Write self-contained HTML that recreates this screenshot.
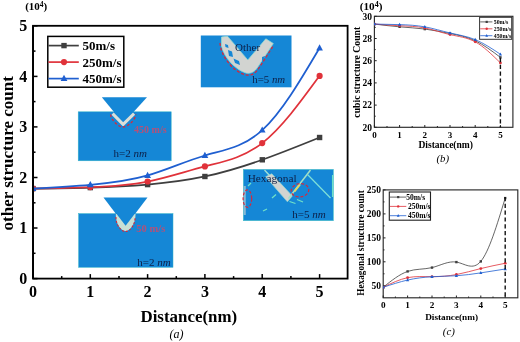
<!DOCTYPE html>
<html lang="en">
<head>
<meta charset="utf-8">
<title>Structure count vs distance</title>
<style>
html,body{margin:0;padding:0;background:#fff;}
body{width:520px;height:342px;overflow:hidden;}
svg{display:block;font-family:"Liberation Serif","DejaVu Serif",serif;}

</style>
</head>
<body>
<svg width="520" height="342" viewBox="0 0 520 342">
<rect x="0" y="0" width="520" height="342" fill="#fff"/>
<g id="plot-a">
<g id="inset-450">
<rect x="78.2" y="111.8" width="93" height="49" fill="#1587d6" stroke="#35b5c5" stroke-width="0.5"/>
<polygon points="101.8,97.3 147,97.3 123.3,123.3" fill="#1587d6"/>
<path d="M112.6,113.6 L123.1,124.4 L134.1,113.6" fill="none" stroke="#dcdfd8" stroke-width="3" stroke-linejoin="round"/>
<path d="M110.6,114.5 C111,119.5 118,127.2 123,127 C128,127.2 135.5,119.5 135.8,114.5" fill="none" stroke="#d8283a" stroke-width="1.3" stroke-dasharray="2.6 2"/>
<text x="150.3" y="133" font-size="10" font-weight="bold" fill="#e8405a" text-anchor="middle" opacity="0.75">450 m/s</text>
<text x="130.3" y="156.8" font-size="11" fill="#0c1f48" text-anchor="middle">h=2 <tspan font-style="italic">nm</tspan></text>
</g>
<g id="inset-50">
<rect x="78.6" y="213.6" width="94.4" height="53.7" fill="#1587d6" stroke="#35b5c5" stroke-width="0.5"/>
<polygon points="103.5,197.5 147.5,197.5 125.5,226.5" fill="#1587d6"/>
<path d="M115.8,214 C115.5,224 121,231 125.5,231 C130,231 135.5,224 135.6,214 Z" fill="#c9e0d5"/>
<polygon points="116.6,214 134.6,214 125.6,225.8" fill="#1587d6"/>
<path d="M116,217 C115.5,225 121.5,231.8 125.5,231.5 C129.5,231.8 135.5,225 135,217" fill="none" stroke="#d8283a" stroke-width="1.1" stroke-dasharray="2.2 1.6"/>
<text x="150.8" y="231.8" font-size="10.5" font-weight="bold" fill="#e8405a" text-anchor="middle" opacity="0.75">50 m/s</text>
<text x="154" y="265.5" font-size="11" fill="#0c1f48" text-anchor="middle">h=2 <tspan font-style="italic">nm</tspan></text>
</g>
<g id="inset-other">
<rect x="200.8" y="35.5" width="90.7" height="51.8" fill="#1587d6"/>
<path d="M221.5,37 L227.5,36.2 L247.8,60 L265.8,38.8 L273.3,43.5 L257.5,67.5 C254.5,72 250.5,74 246,73 C236,70 224,58 221.5,46 Z" fill="#d2d4d1" stroke="#8fd9d2" stroke-width="0.8" stroke-linejoin="round"/>
<path d="M228,50 L232,51.5 L233,57 L229,56 Z M233.5,58.5 L239,61 L240,65 L235,63 Z M225,44 l3,1 l0.5,3 l-3,-1 Z M262,57 l3,-1 l-1,4 l-2,1 Z" fill="#1587d6"/>
<path d="M220,43 C221,58 236,74.8 248.5,75.2 C253.5,75.2 257,71 259,68 L273.5,45.5" fill="none" stroke="#d8283a" stroke-width="1.3" stroke-dasharray="3 1.8"/>
<text x="247.6" y="50.8" font-size="11" fill="#0c1f48" text-anchor="middle">Other</text>
<text x="268.7" y="83.4" font-size="10.8" fill="#0c1f48" text-anchor="middle">h=5 <tspan font-style="italic">nm</tspan></text>
</g>
<g id="inset-hex">
<rect x="243.3" y="169.4" width="90" height="51.3" fill="#1587d6" stroke="#45c0c8" stroke-width="0.6"/>
<path d="M243.6,186 L245.8,186 L245.8,215 L243.6,215 Z" fill="#a9c9d6" opacity="0.75"/>
<path d="M264.5,170 L270,176" fill="none" stroke="#9fe0d6" stroke-width="1.4"/>
<path d="M265.6,176.8 L271.8,173.8 L292.3,196 L287.4,201.8 Z" fill="#d2d4d1" stroke="#8fd9d2" stroke-width="0.7" stroke-linejoin="round"/>
<path d="M288.5,198.5 L310.5,170" fill="none" stroke="#a6dfc4" stroke-width="1.5"/>
<path d="M294.5,191.5 L300,184.5" fill="none" stroke="#e6d860" stroke-width="2"/>
<path d="M307.5,174.5 L330.5,198" fill="none" stroke="#7fe0d8" stroke-width="1.2"/>
<path d="M272,198 l4,-3.5 M263,211 l4,-2 M289.5,201.5 l6,2 M297,199.5 l6,2.5 M248,186 l3,-3 M332.6,175 l0,22" fill="none" stroke="#6fe0c8" stroke-width="1.3"/>
<ellipse cx="300" cy="190.3" rx="8.8" ry="6.6" fill="none" stroke="#d8283a" stroke-width="1.2" stroke-dasharray="3 1.8" transform="rotate(-8 300 190.3)"/>
<ellipse cx="247.4" cy="198.6" rx="4.3" ry="8.7" fill="none" stroke="#d8283a" stroke-width="1.2" stroke-dasharray="3 1.8"/>
<text x="272.1" y="181.6" font-size="11.3" fill="#0c1f48" text-anchor="middle">Hexagonal</text>
<text x="309" y="217.5" font-size="11" fill="#0c1f48" text-anchor="middle">h=5 <tspan font-style="italic">nm</tspan></text>
</g>
<rect x="33.0" y="25.8" width="314.6" height="252.8" fill="none" stroke="#000" stroke-width="1.8"/>
<line x1="33.0" y1="278.6" x2="33.0" y2="274.1" stroke="#000" stroke-width="1.5"/>
<line x1="61.7" y1="278.6" x2="61.7" y2="276.1" stroke="#000" stroke-width="1.5"/>
<line x1="90.3" y1="278.6" x2="90.3" y2="274.1" stroke="#000" stroke-width="1.5"/>
<line x1="119.0" y1="278.6" x2="119.0" y2="276.1" stroke="#000" stroke-width="1.5"/>
<line x1="147.6" y1="278.6" x2="147.6" y2="274.1" stroke="#000" stroke-width="1.5"/>
<line x1="176.3" y1="278.6" x2="176.3" y2="276.1" stroke="#000" stroke-width="1.5"/>
<line x1="204.9" y1="278.6" x2="204.9" y2="274.1" stroke="#000" stroke-width="1.5"/>
<line x1="233.6" y1="278.6" x2="233.6" y2="276.1" stroke="#000" stroke-width="1.5"/>
<line x1="262.2" y1="278.6" x2="262.2" y2="274.1" stroke="#000" stroke-width="1.5"/>
<line x1="290.9" y1="278.6" x2="290.9" y2="276.1" stroke="#000" stroke-width="1.5"/>
<line x1="319.6" y1="278.6" x2="319.6" y2="274.1" stroke="#000" stroke-width="1.5"/>
<line x1="33.0" y1="278.6" x2="37.5" y2="278.6" stroke="#000" stroke-width="1.5"/>
<line x1="33.0" y1="253.3" x2="35.5" y2="253.3" stroke="#000" stroke-width="1.5"/>
<line x1="33.0" y1="228.0" x2="37.5" y2="228.0" stroke="#000" stroke-width="1.5"/>
<line x1="33.0" y1="202.8" x2="35.5" y2="202.8" stroke="#000" stroke-width="1.5"/>
<line x1="33.0" y1="177.5" x2="37.5" y2="177.5" stroke="#000" stroke-width="1.5"/>
<line x1="33.0" y1="152.2" x2="35.5" y2="152.2" stroke="#000" stroke-width="1.5"/>
<line x1="33.0" y1="126.9" x2="37.5" y2="126.9" stroke="#000" stroke-width="1.5"/>
<line x1="33.0" y1="101.6" x2="35.5" y2="101.6" stroke="#000" stroke-width="1.5"/>
<line x1="33.0" y1="76.4" x2="37.5" y2="76.4" stroke="#000" stroke-width="1.5"/>
<line x1="33.0" y1="51.1" x2="35.5" y2="51.1" stroke="#000" stroke-width="1.5"/>
<line x1="33.0" y1="25.8" x2="37.5" y2="25.8" stroke="#000" stroke-width="1.5"/>
<text x="33.0" y="297.4" font-size="16" font-weight="bold" text-anchor="middle">0</text>
<text x="90.3" y="297.4" font-size="16" font-weight="bold" text-anchor="middle">1</text>
<text x="147.6" y="297.4" font-size="16" font-weight="bold" text-anchor="middle">2</text>
<text x="204.9" y="297.4" font-size="16" font-weight="bold" text-anchor="middle">3</text>
<text x="262.2" y="297.4" font-size="16" font-weight="bold" text-anchor="middle">4</text>
<text x="319.6" y="297.4" font-size="16" font-weight="bold" text-anchor="middle">5</text>
<text x="27.2" y="284.0" font-size="16" font-weight="bold" text-anchor="end">0</text>
<text x="27.2" y="233.4" font-size="16" font-weight="bold" text-anchor="end">1</text>
<text x="27.2" y="182.9" font-size="16" font-weight="bold" text-anchor="end">2</text>
<text x="27.2" y="132.3" font-size="16" font-weight="bold" text-anchor="end">3</text>
<text x="27.2" y="81.8" font-size="16" font-weight="bold" text-anchor="end">4</text>
<text x="27.2" y="31.2" font-size="16" font-weight="bold" text-anchor="end">5</text>
<text x="25.2" y="10.2" font-size="11" font-weight="bold">(10<tspan dy="-3.5" font-size="7.5">4</tspan><tspan dy="3.5">)</tspan></text>
<text transform="translate(12.6,153.3) rotate(-90)" font-size="17" font-weight="bold" text-anchor="middle">other structure count</text>
<text x="188.8" y="321.6" font-size="16.9" font-weight="bold" text-anchor="middle">Distance(nm)</text>
<text x="176.5" y="338" font-size="12" font-style="italic" text-anchor="middle">(a)</text>
<clipPath id="clipA"><rect x="33.05" y="0" width="400" height="342"/></clipPath>
<g clip-path="url(#clipA)">
<path d="M33.05,188.60 C52.15,188.37 71.25,188.14 90.35,187.59 C109.45,187.04 128.55,186.18 147.65,184.56 C166.75,182.94 185.85,180.56 204.95,176.47 C224.05,172.37 243.15,166.56 262.25,159.78 C281.35,153.01 300.45,145.27 319.55,137.54" fill="none" stroke="#3f3f3f" stroke-width="1.75"/>
<rect x="30.3" y="185.9" width="5.4" height="5.4" fill="#3f3f3f"/>
<rect x="87.6" y="184.9" width="5.4" height="5.4" fill="#3f3f3f"/>
<rect x="144.9" y="181.9" width="5.4" height="5.4" fill="#3f3f3f"/>
<rect x="202.2" y="173.8" width="5.4" height="5.4" fill="#3f3f3f"/>
<rect x="259.6" y="157.1" width="5.4" height="5.4" fill="#3f3f3f"/>
<rect x="316.9" y="134.8" width="5.4" height="5.4" fill="#3f3f3f"/>
<path d="M33.05,188.60 C52.15,188.21 71.25,187.82 90.35,187.09 C109.45,186.36 128.55,185.28 147.65,181.52 C166.75,177.76 185.85,171.31 204.95,166.36 C224.05,161.40 243.15,157.93 262.25,143.10 C281.35,128.26 300.45,102.06 319.55,75.85" fill="none" stroke="#e0323a" stroke-width="1.75"/>
<circle cx="33.0" cy="188.6" r="3.1" fill="#e0323a"/>
<circle cx="90.3" cy="187.1" r="3.1" fill="#e0323a"/>
<circle cx="147.6" cy="181.5" r="3.1" fill="#e0323a"/>
<circle cx="204.9" cy="166.4" r="3.1" fill="#e0323a"/>
<circle cx="262.2" cy="143.1" r="3.1" fill="#e0323a"/>
<circle cx="319.6" cy="75.9" r="3.1" fill="#e0323a"/>
<path d="M33.05,188.60 C52.15,187.53 71.25,186.45 90.35,184.81 C109.45,183.18 128.55,180.98 147.65,175.46 C166.75,169.93 185.85,161.08 204.95,155.49 C224.05,149.90 243.15,147.57 262.25,130.21 C281.35,112.84 300.45,80.45 319.55,48.05" fill="none" stroke="#1f5fd0" stroke-width="1.75"/>
<polygon points="33.0,184.8 29.6,191.0 36.4,191.0" fill="#1f5fd0"/>
<polygon points="90.3,181.0 86.9,187.2 93.8,187.2" fill="#1f5fd0"/>
<polygon points="147.6,171.7 144.2,177.9 151.0,177.9" fill="#1f5fd0"/>
<polygon points="204.9,151.7 201.5,157.9 208.3,157.9" fill="#1f5fd0"/>
<polygon points="262.2,126.4 258.9,132.6 265.6,132.6" fill="#1f5fd0"/>
<polygon points="319.6,44.2 316.2,50.4 322.9,50.4" fill="#1f5fd0"/>
</g>
<line x1="33.05" y1="25.8" x2="33.05" y2="278.6" stroke="#000" stroke-width="1.8"/>
<rect x="47.8" y="36.4" width="76" height="50.8" fill="#fff" stroke="#000" stroke-width="1.5"/>
<line x1="48.4" y1="45.6" x2="78.8" y2="45.6" stroke="#3f3f3f" stroke-width="1.7"/>
<rect x="61.3" y="42.9" width="5.4" height="5.4" fill="#3f3f3f"/>
<text x="82.5" y="50.0" font-size="13" font-weight="bold">50m/s</text>
<line x1="48.4" y1="62.1" x2="78.8" y2="62.1" stroke="#e0323a" stroke-width="1.7"/>
<circle cx="64.0" cy="62.1" r="3.1" fill="#e0323a"/>
<text x="82.5" y="66.5" font-size="13" font-weight="bold">250m/s</text>
<line x1="48.4" y1="78.6" x2="78.8" y2="78.6" stroke="#1f5fd0" stroke-width="1.7"/>
<polygon points="64.0,74.8 60.6,81.0 67.4,81.0" fill="#1f5fd0"/>
<text x="82.5" y="83.0" font-size="13" font-weight="bold">450m/s</text>
</g>
<g id="plot-b">
<rect x="374.4" y="16.3" width="138.5" height="111.0" fill="none" stroke="#2a2a2a" stroke-width="1.15"/>
<line x1="374.4" y1="127.3" x2="374.4" y2="125.0" stroke="#222" stroke-width="1"/>
<line x1="387.0" y1="127.3" x2="387.0" y2="126.0" stroke="#222" stroke-width="1"/>
<line x1="399.6" y1="127.3" x2="399.6" y2="125.0" stroke="#222" stroke-width="1"/>
<line x1="412.2" y1="127.3" x2="412.2" y2="126.0" stroke="#222" stroke-width="1"/>
<line x1="424.8" y1="127.3" x2="424.8" y2="125.0" stroke="#222" stroke-width="1"/>
<line x1="437.4" y1="127.3" x2="437.4" y2="126.0" stroke="#222" stroke-width="1"/>
<line x1="450.0" y1="127.3" x2="450.0" y2="125.0" stroke="#222" stroke-width="1"/>
<line x1="462.6" y1="127.3" x2="462.6" y2="126.0" stroke="#222" stroke-width="1"/>
<line x1="475.2" y1="127.3" x2="475.2" y2="125.0" stroke="#222" stroke-width="1"/>
<line x1="487.8" y1="127.3" x2="487.8" y2="126.0" stroke="#222" stroke-width="1"/>
<line x1="500.4" y1="127.3" x2="500.4" y2="125.0" stroke="#222" stroke-width="1"/>
<line x1="374.4" y1="127.3" x2="376.7" y2="127.3" stroke="#222" stroke-width="1"/>
<line x1="374.4" y1="116.2" x2="375.7" y2="116.2" stroke="#222" stroke-width="1"/>
<line x1="374.4" y1="105.1" x2="376.7" y2="105.1" stroke="#222" stroke-width="1"/>
<line x1="374.4" y1="94.0" x2="375.7" y2="94.0" stroke="#222" stroke-width="1"/>
<line x1="374.4" y1="82.9" x2="376.7" y2="82.9" stroke="#222" stroke-width="1"/>
<line x1="374.4" y1="71.8" x2="375.7" y2="71.8" stroke="#222" stroke-width="1"/>
<line x1="374.4" y1="60.7" x2="376.7" y2="60.7" stroke="#222" stroke-width="1"/>
<line x1="374.4" y1="49.6" x2="375.7" y2="49.6" stroke="#222" stroke-width="1"/>
<line x1="374.4" y1="38.5" x2="376.7" y2="38.5" stroke="#222" stroke-width="1"/>
<line x1="374.4" y1="27.4" x2="375.7" y2="27.4" stroke="#222" stroke-width="1"/>
<line x1="374.4" y1="16.3" x2="376.7" y2="16.3" stroke="#222" stroke-width="1"/>
<text x="374.4" y="137.8" font-size="9" font-weight="bold" text-anchor="middle">0</text>
<text x="399.6" y="137.8" font-size="9" font-weight="bold" text-anchor="middle">1</text>
<text x="424.8" y="137.8" font-size="9" font-weight="bold" text-anchor="middle">2</text>
<text x="450.0" y="137.8" font-size="9" font-weight="bold" text-anchor="middle">3</text>
<text x="475.2" y="137.8" font-size="9" font-weight="bold" text-anchor="middle">4</text>
<text x="500.4" y="137.8" font-size="9" font-weight="bold" text-anchor="middle">5</text>
<text x="372.0" y="130.5" font-size="9.5" font-weight="bold" text-anchor="end">20</text>
<text x="372.0" y="108.3" font-size="9.5" font-weight="bold" text-anchor="end">22</text>
<text x="372.0" y="86.1" font-size="9.5" font-weight="bold" text-anchor="end">24</text>
<text x="372.0" y="63.9" font-size="9.5" font-weight="bold" text-anchor="end">26</text>
<text x="372.0" y="41.7" font-size="9.5" font-weight="bold" text-anchor="end">28</text>
<text x="372.0" y="19.5" font-size="9.5" font-weight="bold" text-anchor="end">30</text>
<text x="359.8" y="10" font-size="11.2" font-weight="bold">(10<tspan dy="-3.5" font-size="8">4</tspan><tspan dy="3.5">)</tspan></text>
<text transform="translate(359.5,72.25) rotate(-90)" font-size="9.7" font-weight="bold" text-anchor="middle">cubic structure Count</text>
<text x="445.7" y="147.7" font-size="9.55" font-weight="bold" text-anchor="middle">Distance(nm)</text>
<text x="442.8" y="162.3" font-size="10.8" font-style="italic" text-anchor="middle">(b)</text>
<clipPath id="clipB"><rect x="374.10" y="0" width="200" height="342"/></clipPath>
<g clip-path="url(#clipB)">
<path d="M374.40,24.07 C382.80,25.10 391.20,26.12 399.60,26.84 C408.00,27.57 416.40,27.99 424.80,29.06 C433.20,30.14 441.60,31.85 450.00,33.51 C458.40,35.16 466.80,36.75 475.20,40.72 C483.60,44.69 492.00,51.03 500.40,57.37" fill="none" stroke="#3f3f3f" stroke-width="0.8"/>
<rect x="373.2" y="22.9" width="2.4" height="2.4" fill="#3f3f3f"/>
<rect x="398.4" y="25.6" width="2.4" height="2.4" fill="#3f3f3f"/>
<rect x="423.6" y="27.9" width="2.4" height="2.4" fill="#3f3f3f"/>
<rect x="448.8" y="32.3" width="2.4" height="2.4" fill="#3f3f3f"/>
<rect x="474.0" y="39.5" width="2.4" height="2.4" fill="#3f3f3f"/>
<rect x="499.2" y="56.2" width="2.4" height="2.4" fill="#3f3f3f"/>
<path d="M374.40,24.07 C382.80,24.70 391.20,25.33 399.60,25.74 C408.00,26.14 416.40,26.32 424.80,27.95 C433.20,29.59 441.60,32.69 450.00,34.61 C458.40,36.54 466.80,37.31 475.20,41.83 C483.60,46.35 492.00,54.64 500.40,62.92" fill="none" stroke="#e0323a" stroke-width="0.8"/>
<circle cx="374.4" cy="24.1" r="1.4" fill="#e0323a"/>
<circle cx="399.6" cy="25.7" r="1.4" fill="#e0323a"/>
<circle cx="424.8" cy="28.0" r="1.4" fill="#e0323a"/>
<circle cx="450.0" cy="34.6" r="1.4" fill="#e0323a"/>
<circle cx="475.2" cy="41.8" r="1.4" fill="#e0323a"/>
<circle cx="500.4" cy="62.9" r="1.4" fill="#e0323a"/>
<path d="M374.40,24.07 C382.80,24.21 391.20,24.35 399.60,24.62 C408.00,24.90 416.40,25.32 424.80,26.84 C433.20,28.37 441.60,31.00 450.00,32.95 C458.40,34.90 466.80,36.17 475.20,39.61 C483.60,43.05 492.00,48.66 500.40,54.26" fill="none" stroke="#1f5fd0" stroke-width="0.8"/>
<polygon points="374.4,22.3 372.8,25.3 376.0,25.3" fill="#1f5fd0"/>
<polygon points="399.6,22.8 398.0,25.8 401.2,25.8" fill="#1f5fd0"/>
<polygon points="424.8,25.0 423.2,28.0 426.4,28.0" fill="#1f5fd0"/>
<polygon points="450.0,31.2 448.4,34.2 451.6,34.2" fill="#1f5fd0"/>
<polygon points="475.2,37.8 473.6,40.8 476.8,40.8" fill="#1f5fd0"/>
<polygon points="500.4,52.5 498.8,55.5 502.0,55.5" fill="#1f5fd0"/>
</g>
<line x1="500.4" y1="58.0" x2="500.4" y2="127.3" stroke="#111" stroke-width="1.4" stroke-dasharray="4.2 2.6"/>
<rect x="479.6" y="17.3" width="32.1" height="22" fill="#fff" stroke="#333" stroke-width="1"/>
<line x1="480.2" y1="21.9" x2="492.4" y2="21.9" stroke="#3f3f3f" stroke-width="0.8"/>
<rect x="485.6" y="20.8" width="2.2" height="2.2" fill="#3f3f3f"/>
<text x="493.8" y="23.8" font-size="5.8" font-weight="bold">50m/s</text>
<line x1="480.2" y1="28.8" x2="492.4" y2="28.8" stroke="#e0323a" stroke-width="0.8"/>
<circle cx="486.7" cy="28.8" r="1.2" fill="#e0323a"/>
<text x="493.8" y="30.7" font-size="5.8" font-weight="bold">250m/s</text>
<line x1="480.2" y1="35.7" x2="492.4" y2="35.7" stroke="#1f5fd0" stroke-width="0.8"/>
<polygon points="486.7,34.1 485.3,36.7 488.1,36.7" fill="#1f5fd0"/>
<text x="493.8" y="37.6" font-size="5.8" font-weight="bold">450m/s</text>
</g>
<g id="plot-c">
<rect x="383.2" y="189.9" width="134.6" height="107.9" fill="none" stroke="#2a2a2a" stroke-width="1.15"/>
<line x1="383.2" y1="297.8" x2="383.2" y2="295.5" stroke="#222" stroke-width="1"/>
<line x1="395.4" y1="297.8" x2="395.4" y2="296.5" stroke="#222" stroke-width="1"/>
<line x1="407.6" y1="297.8" x2="407.6" y2="295.5" stroke="#222" stroke-width="1"/>
<line x1="419.8" y1="297.8" x2="419.8" y2="296.5" stroke="#222" stroke-width="1"/>
<line x1="432.0" y1="297.8" x2="432.0" y2="295.5" stroke="#222" stroke-width="1"/>
<line x1="444.2" y1="297.8" x2="444.2" y2="296.5" stroke="#222" stroke-width="1"/>
<line x1="456.4" y1="297.8" x2="456.4" y2="295.5" stroke="#222" stroke-width="1"/>
<line x1="468.6" y1="297.8" x2="468.6" y2="296.5" stroke="#222" stroke-width="1"/>
<line x1="480.8" y1="297.8" x2="480.8" y2="295.5" stroke="#222" stroke-width="1"/>
<line x1="493.0" y1="297.8" x2="493.0" y2="296.5" stroke="#222" stroke-width="1"/>
<line x1="505.2" y1="297.8" x2="505.2" y2="295.5" stroke="#222" stroke-width="1"/>
<line x1="383.2" y1="285.8" x2="385.5" y2="285.8" stroke="#222" stroke-width="1"/>
<line x1="383.2" y1="273.8" x2="384.5" y2="273.8" stroke="#222" stroke-width="1"/>
<line x1="383.2" y1="261.8" x2="385.5" y2="261.8" stroke="#222" stroke-width="1"/>
<line x1="383.2" y1="249.9" x2="384.5" y2="249.9" stroke="#222" stroke-width="1"/>
<line x1="383.2" y1="237.9" x2="385.5" y2="237.9" stroke="#222" stroke-width="1"/>
<line x1="383.2" y1="225.9" x2="384.5" y2="225.9" stroke="#222" stroke-width="1"/>
<line x1="383.2" y1="213.9" x2="385.5" y2="213.9" stroke="#222" stroke-width="1"/>
<line x1="383.2" y1="201.9" x2="384.5" y2="201.9" stroke="#222" stroke-width="1"/>
<line x1="383.2" y1="189.9" x2="385.5" y2="189.9" stroke="#222" stroke-width="1"/>
<text x="383.2" y="307.8" font-size="9.2" font-weight="bold" text-anchor="middle">0</text>
<text x="407.6" y="307.8" font-size="9.2" font-weight="bold" text-anchor="middle">1</text>
<text x="432.0" y="307.8" font-size="9.2" font-weight="bold" text-anchor="middle">2</text>
<text x="456.4" y="307.8" font-size="9.2" font-weight="bold" text-anchor="middle">3</text>
<text x="480.8" y="307.8" font-size="9.2" font-weight="bold" text-anchor="middle">4</text>
<text x="505.2" y="307.8" font-size="9.2" font-weight="bold" text-anchor="middle">5</text>
<text x="380.9" y="289.0" font-size="9.5" font-weight="bold" text-anchor="end">50</text>
<text x="380.9" y="265.0" font-size="9.5" font-weight="bold" text-anchor="end">100</text>
<text x="380.9" y="241.1" font-size="9.5" font-weight="bold" text-anchor="end">150</text>
<text x="380.9" y="217.1" font-size="9.5" font-weight="bold" text-anchor="end">200</text>
<text x="380.9" y="193.1" font-size="9.5" font-weight="bold" text-anchor="end">250</text>
<text transform="translate(363.5,243) rotate(-90)" font-size="9.3" font-weight="bold" text-anchor="middle">Hexagonal structure count</text>
<text x="451.6" y="320.3" font-size="9.25" font-weight="bold" text-anchor="middle">Distance(nm)</text>
<text x="448.8" y="335.3" font-size="10.8" font-style="italic" text-anchor="middle">(c)</text>
<clipPath id="clipC"><rect x="382.90" y="0" width="200" height="342"/></clipPath>
<g clip-path="url(#clipC)">
<path d="M383.20,287.26 C391.33,280.74 399.47,274.22 407.60,271.43 C415.73,268.64 423.87,269.57 432.00,267.60 C440.13,265.62 448.27,260.74 456.40,262.08 C464.53,263.42 472.67,270.99 480.80,261.36 C488.93,251.73 497.07,224.89 505.20,198.05" fill="none" stroke="#3f3f3f" stroke-width="0.8"/>
<rect x="382.0" y="286.1" width="2.4" height="2.4" fill="#3f3f3f"/>
<rect x="406.4" y="270.2" width="2.4" height="2.4" fill="#3f3f3f"/>
<rect x="430.8" y="266.4" width="2.4" height="2.4" fill="#3f3f3f"/>
<rect x="455.2" y="260.9" width="2.4" height="2.4" fill="#3f3f3f"/>
<rect x="479.6" y="260.2" width="2.4" height="2.4" fill="#3f3f3f"/>
<rect x="504.0" y="196.9" width="2.4" height="2.4" fill="#3f3f3f"/>
<path d="M383.20,287.26 C391.33,283.29 399.47,279.32 407.60,277.67 C415.73,276.02 423.87,276.69 432.00,276.71 C440.13,276.72 448.27,276.08 456.40,274.55 C464.53,273.01 472.67,270.58 480.80,268.55 C488.93,266.53 497.07,264.90 505.20,263.28" fill="none" stroke="#e0323a" stroke-width="0.8"/>
<circle cx="383.2" cy="287.3" r="1.4" fill="#e0323a"/>
<circle cx="407.6" cy="277.7" r="1.4" fill="#e0323a"/>
<circle cx="432.0" cy="276.7" r="1.4" fill="#e0323a"/>
<circle cx="456.4" cy="274.5" r="1.4" fill="#e0323a"/>
<circle cx="480.8" cy="268.6" r="1.4" fill="#e0323a"/>
<circle cx="505.2" cy="263.3" r="1.4" fill="#e0323a"/>
<path d="M383.20,287.26 C391.33,284.59 399.47,281.91 407.60,280.06 C415.73,278.22 423.87,277.19 432.00,276.71 C440.13,276.22 448.27,276.28 456.40,275.75 C464.53,275.21 472.67,274.09 480.80,272.87 C488.93,271.65 497.07,270.34 505.20,269.03" fill="none" stroke="#1f5fd0" stroke-width="0.8"/>
<polygon points="383.2,285.5 381.6,288.5 384.8,288.5" fill="#1f5fd0"/>
<polygon points="407.6,278.3 406.0,281.3 409.2,281.3" fill="#1f5fd0"/>
<polygon points="432.0,274.9 430.4,277.9 433.6,277.9" fill="#1f5fd0"/>
<polygon points="456.4,273.9 454.8,276.9 458.0,276.9" fill="#1f5fd0"/>
<polygon points="480.8,271.1 479.2,274.1 482.4,274.1" fill="#1f5fd0"/>
<polygon points="505.2,267.2 503.6,270.2 506.8,270.2" fill="#1f5fd0"/>
</g>
<line x1="505.2" y1="197.0" x2="505.2" y2="297.8" stroke="#111" stroke-width="1.4" stroke-dasharray="4.2 2.6"/>
<rect x="389.3" y="192" width="41.2" height="28.2" fill="#fff" stroke="#222" stroke-width="1.1"/>
<line x1="390" y1="197.1" x2="406.3" y2="197.1" stroke="#3f3f3f" stroke-width="0.8"/>
<rect x="397.1" y="196.0" width="2.2" height="2.2" fill="#3f3f3f"/>
<text x="406.3" y="199.6" font-size="7.5" font-weight="bold">50m/s</text>
<line x1="390" y1="206.4" x2="406.3" y2="206.4" stroke="#e0323a" stroke-width="0.8"/>
<circle cx="398.2" cy="206.4" r="1.2" fill="#e0323a"/>
<text x="408.0" y="208.9" font-size="7.5" font-weight="bold">250m/s</text>
<line x1="390" y1="215.7" x2="406.3" y2="215.7" stroke="#1f5fd0" stroke-width="0.8"/>
<polygon points="398.2,214.1 396.8,216.7 399.6,216.7" fill="#1f5fd0"/>
<text x="408.0" y="218.2" font-size="7.5" font-weight="bold">450m/s</text>
</g>
</svg>
</body>
</html>
